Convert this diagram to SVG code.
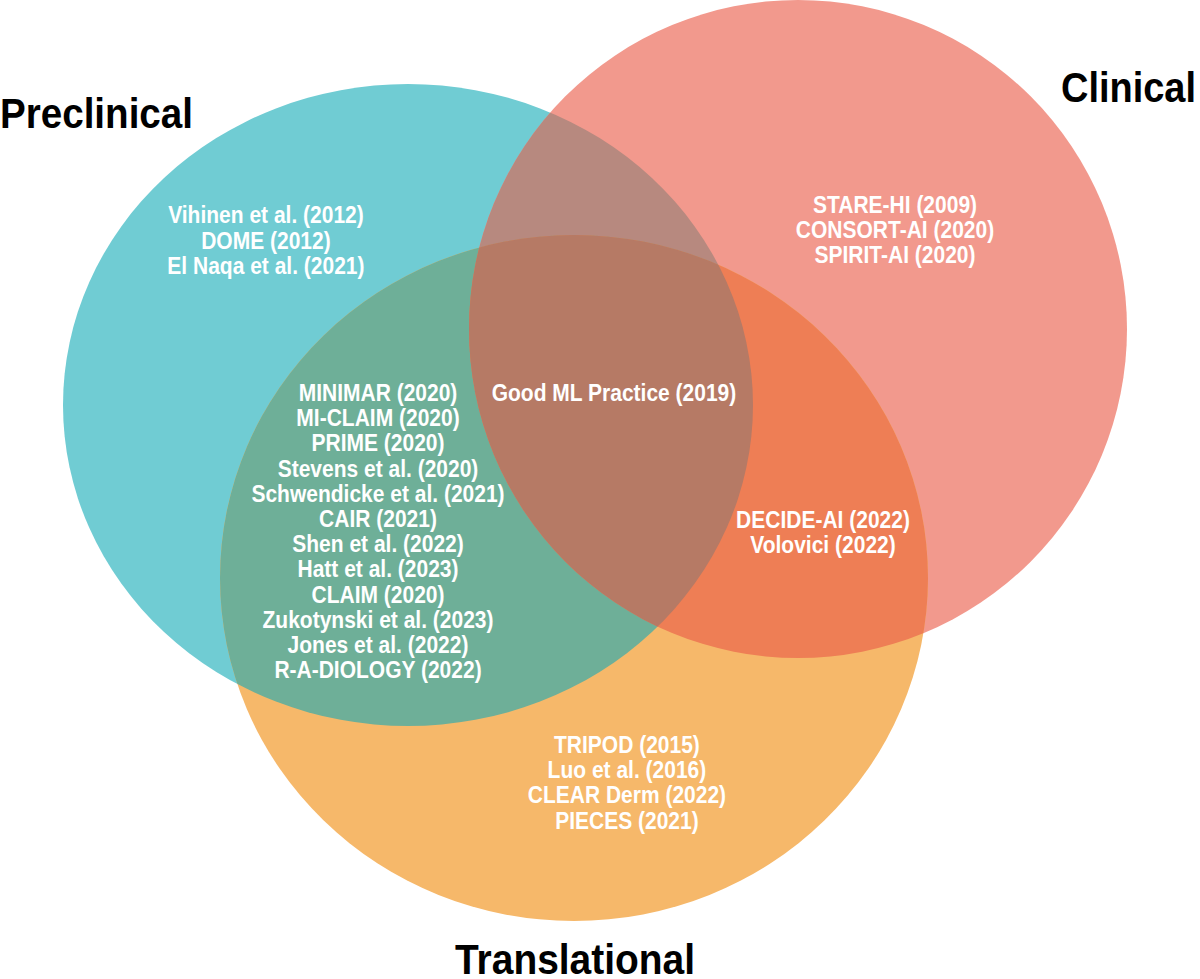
<svg xmlns="http://www.w3.org/2000/svg" width="1200" height="979" viewBox="0 0 1200 979">
<style>
.title{font-family:"Liberation Sans",Arial,sans-serif;font-weight:bold;font-size:43px;fill:#000}
.lbl{font-family:"Liberation Sans",Arial,sans-serif;font-weight:bold;font-size:23px;fill:#fff;text-anchor:middle}
</style>
<defs>
<clipPath id="cR"><ellipse cx="798" cy="329" rx="329" ry="329"/></clipPath>
<clipPath id="cO"><ellipse cx="574" cy="578" rx="354" ry="343"/></clipPath>
</defs>
<rect width="1200" height="979" fill="#fff"/>
<g id="sets">
<g id="preclinical"><ellipse cx="408" cy="405" rx="345" ry="321" fill="#70CCD3"/></g>
<g id="clinical"><ellipse cx="798" cy="329" rx="329" ry="329" fill="#F2998D"/></g>
<g id="translational"><ellipse cx="574" cy="578" rx="354" ry="343" fill="#F6B86A"/></g>
<ellipse cx="408" cy="405" rx="345" ry="321" fill="#B7897F" clip-path="url(#cR)"/>
<ellipse cx="408" cy="405" rx="345" ry="321" fill="#6EAF98" clip-path="url(#cO)"/>
<ellipse cx="798" cy="329" rx="329" ry="329" fill="#EE7E55" clip-path="url(#cO)"/>
<g clip-path="url(#cO)"><ellipse cx="408" cy="405" rx="345" ry="321" fill="#B67A65" clip-path="url(#cR)"/></g>
</g>
<g id="connectors"></g>
<g id="titles">
<text class="title" x="0" y="128" textLength="193" lengthAdjust="spacingAndGlyphs">Preclinical</text>
<text class="title" x="1061" y="102" textLength="135" lengthAdjust="spacingAndGlyphs">Clinical</text>
<text class="title" x="455" y="974" textLength="240" lengthAdjust="spacingAndGlyphs">Translational</text>
</g>
<g id="labels-preclinical" transform="matrix(0.913,0,0,1,23.1,0)">
<text class="lbl" x="266" y="223.5">Vihinen et al. (2012)</text>
<text class="lbl" x="266" y="248.7">DOME (2012)</text>
<text class="lbl" x="266" y="273.9">El Naqa et al. (2021)</text>
</g>
<g id="labels-clinical" transform="matrix(0.913,0,0,1,77.9,0)">
<text class="lbl" x="895" y="213">STARE-HI (2009)</text>
<text class="lbl" x="895" y="238.2">CONSORT-AI (2020)</text>
<text class="lbl" x="895" y="263.4">SPIRIT-AI (2020)</text>
</g>
<g id="labels-all" transform="matrix(0.913,0,0,1,53.4,0)">
<text class="lbl" x="614" y="401">Good ML Practice (2019)</text>
</g>
<g id="labels-pre-trans" transform="matrix(0.913,0,0,1,32.9,0)">
<text class="lbl" x="378" y="401">MINIMAR (2020)</text>
<text class="lbl" x="378" y="426.2">MI-CLAIM (2020)</text>
<text class="lbl" x="378" y="451.4">PRIME (2020)</text>
<text class="lbl" x="378" y="476.6">Stevens et al. (2020)</text>
<text class="lbl" x="378" y="501.8">Schwendicke et al. (2021)</text>
<text class="lbl" x="378" y="527">CAIR (2021)</text>
<text class="lbl" x="378" y="552.2">Shen et al. (2022)</text>
<text class="lbl" x="378" y="577.4">Hatt et al. (2023)</text>
<text class="lbl" x="378" y="602.6">CLAIM (2020)</text>
<text class="lbl" x="378" y="627.8">Zukotynski et al. (2023)</text>
<text class="lbl" x="378" y="653">Jones et al. (2022)</text>
<text class="lbl" x="378" y="678.2">R-A-DIOLOGY (2022)</text>
</g>
<g id="labels-clin-trans" transform="matrix(0.913,0,0,1,71.6,0)">
<text class="lbl" x="823" y="528">DECIDE-AI (2022)</text>
<text class="lbl" x="823" y="553.2">Volovici (2022)</text>
</g>
<g id="labels-translational" transform="matrix(0.913,0,0,1,54.5,0)">
<text class="lbl" x="627" y="753">TRIPOD (2015)</text>
<text class="lbl" x="627" y="778.2">Luo et al. (2016)</text>
<text class="lbl" x="627" y="803.4">CLEAR Derm (2022)</text>
<text class="lbl" x="627" y="828.6">PIECES (2021)</text>
</g>
</svg>
